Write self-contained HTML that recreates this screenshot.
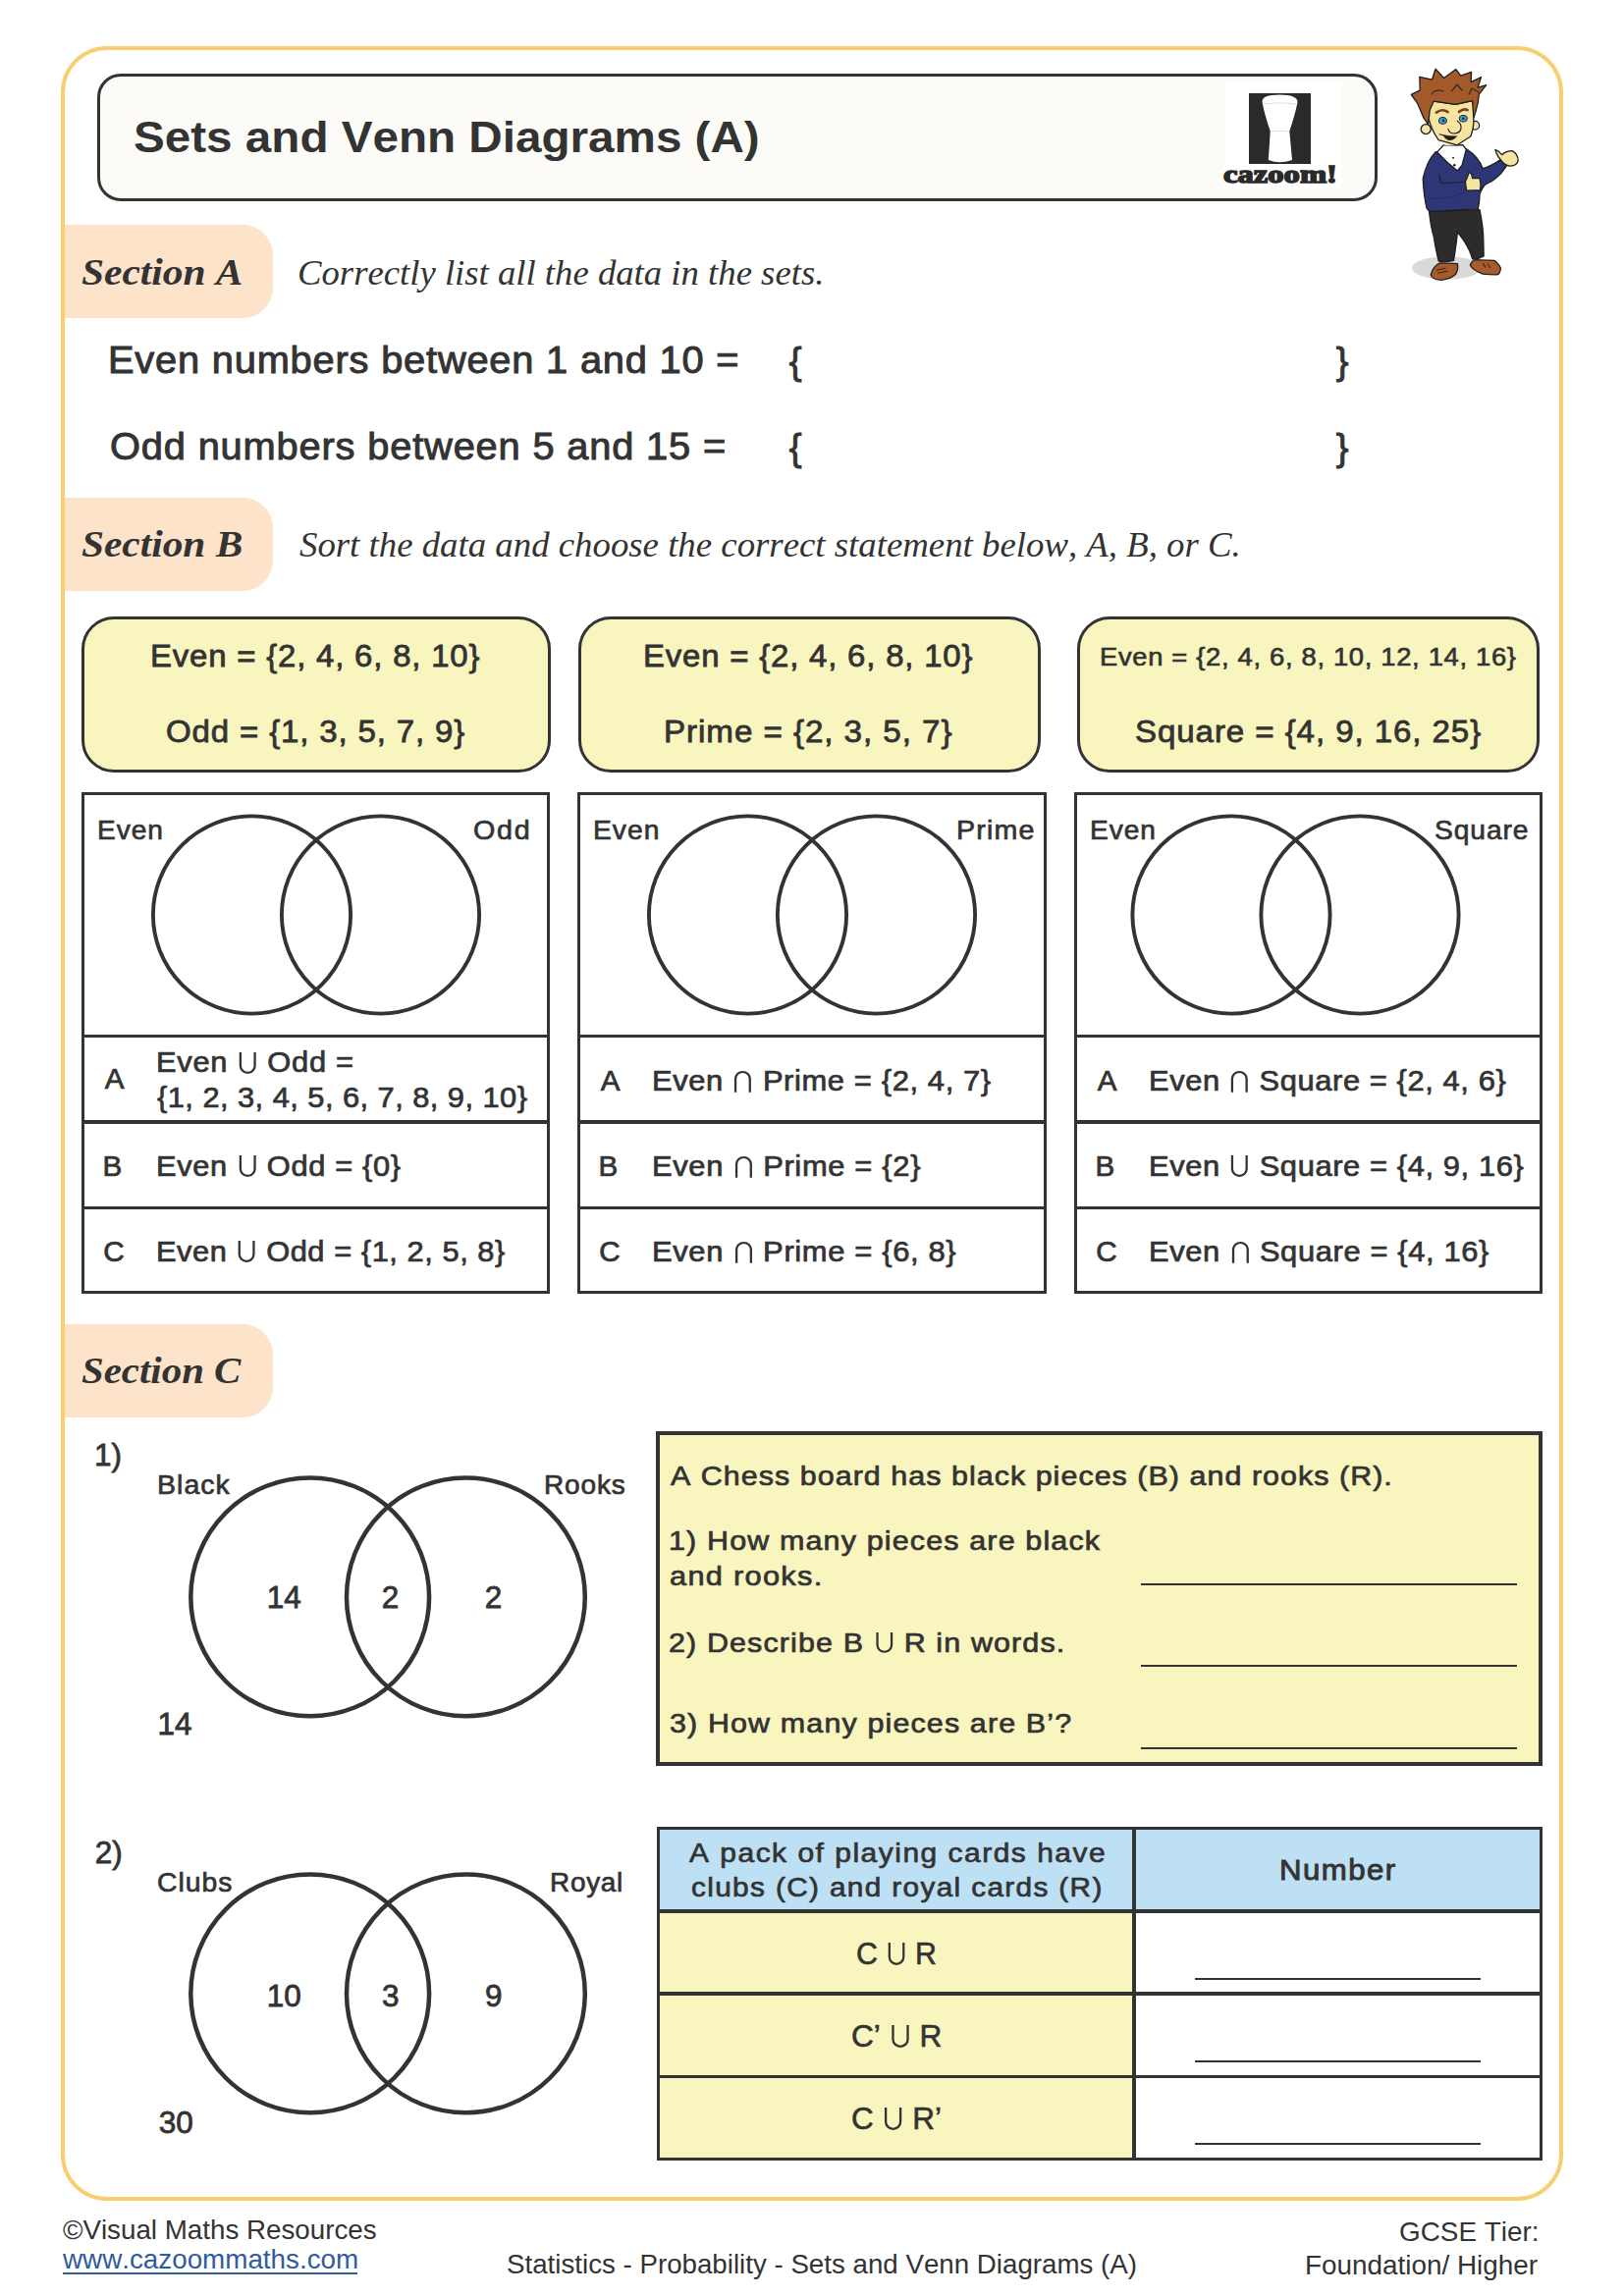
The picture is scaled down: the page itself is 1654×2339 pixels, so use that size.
<!DOCTYPE html>
<html><head><meta charset="utf-8"><title>Sets and Venn Diagrams (A)</title>
<style>
html,body{margin:0;padding:0;background:#FFFFFF;}
body{width:1654px;height:2339px;position:relative;overflow:hidden;font-family:"Liberation Sans", sans-serif;}
.r{position:absolute;box-sizing:border-box;}
.t{position:absolute;white-space:pre;font-kerning:none;}
.sym{display:inline-block;width:0.58em;height:0.77em;margin:0 0.06em;vertical-align:-0.08em;overflow:visible;}
</style></head><body>
<div class="r" style="left:62px;top:47px;width:1530px;height:2195px;background:none;border:4px solid #F8CE72;border-radius:47px;"></div>
<div class="r" style="left:99px;top:75px;width:1304px;height:130px;background:#FCFBF7;border:3.5px solid #333333;border-radius:24px;"></div>
<div class="t" style="left:135.63px;top:116.90px;font-family:'Liberation Sans', sans-serif;font-weight:700;font-style:normal;font-size:45px;line-height:45px;color:#333333;transform:scaleX(1.0582);transform-origin:0 0;">Sets and Venn Diagrams (A)</div>
<div class="r" style="left:1247px;top:84px;width:119px;height:109px;background:#FFFFFF;border:0px solid #333333;border-radius:0;"></div>
<div class="r" style="left:1272px;top:95px;width:63px;height:72px;background:#2A2A2A;border:0px solid #333333;border-radius:0;"></div>
<svg class="r" style="left:1272px;top:95px" width="63" height="72" viewBox="0 0 63 72"><path d="M13.5,9 Q13,1.5 31,1.5 Q49.5,1.5 49.5,9 Q47,22 41.3,38.6 Q42.5,52 44,68 Q31,72.5 19.8,68 Q21,52 21.7,38.6 Q16,22 13.5,9 Z" fill="#FFFFFF"/><path d="M15,11 Q31,8.5 48,11" stroke="#d8d8d8" stroke-width="0.9" fill="none"/><path d="M22.5,39 Q31,37.5 40.5,39" stroke="#d8d8d8" stroke-width="0.9" fill="none"/></svg>
<div class="t" style="left:1245.64px;top:165.15px;font-family:'Liberation Serif', serif;font-weight:700;font-style:normal;font-size:25.5px;line-height:25.5px;color:#2A2A2A;transform:scaleX(1.2792);transform-origin:0 0;-webkit-text-stroke:1.5px #2A2A2A;">cazoom!</div>
<div class="r" style="left:66px;top:229px;width:212px;height:95px;background:#FDE3CA;border:0px solid #333333;border-radius:0 31px 31px 0;"></div>
<div class="t" style="left:83.25px;top:259.02px;font-family:'Liberation Serif', serif;font-weight:700;font-style:italic;font-size:37px;line-height:37px;color:#333333;transform:scaleX(1.1188);transform-origin:0 0;">Section A</div>
<div class="r" style="left:66px;top:507px;width:212px;height:95px;background:#FDE3CA;border:0px solid #333333;border-radius:0 31px 31px 0;"></div>
<div class="t" style="left:83.25px;top:535.72px;font-family:'Liberation Serif', serif;font-weight:700;font-style:italic;font-size:37px;line-height:37px;color:#333333;transform:scaleX(1.1177);transform-origin:0 0;">Section B</div>
<div class="r" style="left:66px;top:1349px;width:212px;height:95px;background:#FDE3CA;border:0px solid #333333;border-radius:0 31px 31px 0;"></div>
<div class="t" style="left:83.26px;top:1377.72px;font-family:'Liberation Serif', serif;font-weight:700;font-style:italic;font-size:37px;line-height:37px;color:#333333;transform:scaleX(1.1046);transform-origin:0 0;">Section C</div>
<div class="t" style="left:302.96px;top:260.69px;font-family:'Liberation Serif', serif;font-weight:400;font-style:italic;font-size:35px;line-height:35px;color:#333333;transform:scaleX(1.0489);transform-origin:0 0;">Correctly list all the data in the sets.</div>
<div class="t" style="left:304.57px;top:537.69px;font-family:'Liberation Serif', serif;font-weight:400;font-style:italic;font-size:35px;line-height:35px;color:#333333;transform:scaleX(1.0515);transform-origin:0 0;">Sort the data and choose the correct statement below, A, B, or C.</div>
<div class="t" style="left:110.22px;top:347.66px;font-family:'Liberation Sans', sans-serif;font-weight:400;font-style:normal;font-size:38.2px;line-height:38.2px;color:#333333;transform:scaleX(1.0416);transform-origin:0 0;letter-spacing:0.784px;-webkit-text-stroke:0.96px #333333;">Even numbers between 1 and 10 =</div>
<div class="t" style="left:111.59px;top:435.66px;font-family:'Liberation Sans', sans-serif;font-weight:400;font-style:normal;font-size:38.2px;line-height:38.2px;color:#333333;transform:scaleX(1.0422);transform-origin:0 0;letter-spacing:0.803px;-webkit-text-stroke:0.96px #333333;">Odd numbers between 5 and 15 =</div>
<div class="t" style="left:803.85px;top:348.66px;font-family:'Liberation Sans', sans-serif;font-weight:400;font-style:normal;font-size:38.2px;line-height:38.2px;color:#333333;-webkit-text-stroke:0.96px #333333;">{</div>
<div class="t" style="left:1360.85px;top:348.66px;font-family:'Liberation Sans', sans-serif;font-weight:400;font-style:normal;font-size:38.2px;line-height:38.2px;color:#333333;-webkit-text-stroke:0.96px #333333;">}</div>
<div class="t" style="left:803.85px;top:436.66px;font-family:'Liberation Sans', sans-serif;font-weight:400;font-style:normal;font-size:38.2px;line-height:38.2px;color:#333333;-webkit-text-stroke:0.96px #333333;">{</div>
<div class="t" style="left:1360.85px;top:436.66px;font-family:'Liberation Sans', sans-serif;font-weight:400;font-style:normal;font-size:38.2px;line-height:38.2px;color:#333333;-webkit-text-stroke:0.96px #333333;">}</div>
<div class="r" style="left:82.5px;top:627.8px;width:478.0px;height:159.60000000000002px;background:#F9F5BE;border:3.9px solid #333333;border-radius:33px;"></div>
<div class="t" style="left:152.69px;top:652.72px;font-family:'Liberation Sans', sans-serif;font-weight:400;font-style:normal;font-size:31.04px;line-height:31.04px;color:#333333;transform:scaleX(1.0606);transform-origin:0 0;letter-spacing:0.769px;-webkit-text-stroke:0.78px #333333;">Even = {2, 4, 6, 8, 10}</div>
<div class="t" style="left:168.83px;top:729.72px;font-family:'Liberation Sans', sans-serif;font-weight:400;font-style:normal;font-size:31.04px;line-height:31.04px;color:#333333;transform:scaleX(1.0637);transform-origin:0 0;letter-spacing:0.803px;-webkit-text-stroke:0.78px #333333;">Odd = {1, 3, 5, 7, 9}</div>
<div class="r" style="left:83px;top:807px;width:477px;height:511px;background:#FFFFFF;border:3.5px solid #333333;border-radius:0;"></div>
<div class="r" style="left:83px;top:1053.8px;width:477px;height:3.2000000000000455px;background:#333333;border:0px solid #333333;border-radius:0;"></div>
<div class="r" style="left:83px;top:1141px;width:477px;height:4px;background:#333333;border:0px solid #333333;border-radius:0;"></div>
<div class="r" style="left:83px;top:1228.8px;width:477px;height:3.2000000000000455px;background:#333333;border:0px solid #333333;border-radius:0;"></div>
<svg class="r" style="left:83px;top:820px" width="477" height="230" viewBox="0 0 477 230"><circle cx="173.5" cy="112" r="100.6" fill="none" stroke="#333333" stroke-width="3.9"/><circle cx="304.5" cy="112" r="100.6" fill="none" stroke="#333333" stroke-width="3.9"/></svg>
<div class="t" style="left:98.53px;top:833.36px;font-family:'Liberation Sans', sans-serif;font-weight:400;font-style:normal;font-size:26.74px;line-height:26.74px;color:#333333;transform:scaleX(1.0510);transform-origin:0 0;letter-spacing:0.922px;-webkit-text-stroke:0.67px #333333;">Even</div>
<div class="t" style="left:482.38px;top:833.36px;font-family:'Liberation Sans', sans-serif;font-weight:400;font-style:normal;font-size:26.74px;line-height:26.74px;color:#333333;transform:scaleX(1.0734);transform-origin:0 0;letter-spacing:1.625px;-webkit-text-stroke:0.67px #333333;">Odd</div>
<div class="t" style="left:106.81px;top:1083.93px;font-family:'Liberation Sans', sans-serif;font-weight:400;font-style:normal;font-size:29.61px;line-height:29.61px;color:#333333;-webkit-text-stroke:0.74px #333333;">A</div>
<div class="t" style="left:159.34px;top:1067.43px;font-family:'Liberation Sans', sans-serif;font-weight:400;font-style:normal;font-size:29.61px;line-height:29.61px;color:#333333;transform:scaleX(1.0406);transform-origin:0 0;letter-spacing:0.711px;-webkit-text-stroke:0.74px #333333;">Even <svg class="sym" viewBox="0 0 18 24" preserveAspectRatio="none"><path d="M1.6,0 V14.5 A7.4,7.4 0 0 0 16.4,14.5 V0" fill="none" stroke="currentColor" stroke-width="2.3"/></svg> Odd =</div>
<div class="t" style="left:159.86px;top:1103.43px;font-family:'Liberation Sans', sans-serif;font-weight:400;font-style:normal;font-size:29.61px;line-height:29.61px;color:#333333;transform:scaleX(1.0401);transform-origin:0 0;letter-spacing:0.447px;-webkit-text-stroke:0.74px #333333;">{1, 2, 3, 4, 5, 6, 7, 8, 9, 10}</div>
<div class="t" style="left:104.44px;top:1172.93px;font-family:'Liberation Sans', sans-serif;font-weight:400;font-style:normal;font-size:29.61px;line-height:29.61px;color:#333333;-webkit-text-stroke:0.74px #333333;">B</div>
<div class="t" style="left:159.34px;top:1172.93px;font-family:'Liberation Sans', sans-serif;font-weight:400;font-style:normal;font-size:29.61px;line-height:29.61px;color:#333333;transform:scaleX(1.0404);transform-origin:0 0;letter-spacing:0.631px;-webkit-text-stroke:0.74px #333333;">Even <svg class="sym" viewBox="0 0 18 24" preserveAspectRatio="none"><path d="M1.6,0 V14.5 A7.4,7.4 0 0 0 16.4,14.5 V0" fill="none" stroke="currentColor" stroke-width="2.3"/></svg> Odd = {0}</div>
<div class="t" style="left:105.37px;top:1259.93px;font-family:'Liberation Sans', sans-serif;font-weight:400;font-style:normal;font-size:29.61px;line-height:29.61px;color:#333333;-webkit-text-stroke:0.74px #333333;">C</div>
<div class="t" style="left:159.34px;top:1259.93px;font-family:'Liberation Sans', sans-serif;font-weight:400;font-style:normal;font-size:29.61px;line-height:29.61px;color:#333333;transform:scaleX(1.0396);transform-origin:0 0;letter-spacing:0.540px;-webkit-text-stroke:0.74px #333333;">Even <svg class="sym" viewBox="0 0 18 24" preserveAspectRatio="none"><path d="M1.6,0 V14.5 A7.4,7.4 0 0 0 16.4,14.5 V0" fill="none" stroke="currentColor" stroke-width="2.3"/></svg> Odd = {1, 2, 5, 8}</div>
<div class="r" style="left:588.6px;top:627.8px;width:471.1px;height:159.60000000000002px;background:#F9F5BE;border:3.9px solid #333333;border-radius:33px;"></div>
<div class="t" style="left:655.34px;top:652.72px;font-family:'Liberation Sans', sans-serif;font-weight:400;font-style:normal;font-size:31.04px;line-height:31.04px;color:#333333;transform:scaleX(1.0606);transform-origin:0 0;letter-spacing:0.769px;-webkit-text-stroke:0.78px #333333;">Even = {2, 4, 6, 8, 10}</div>
<div class="t" style="left:676.32px;top:729.72px;font-family:'Liberation Sans', sans-serif;font-weight:400;font-style:normal;font-size:31.04px;line-height:31.04px;color:#333333;transform:scaleX(1.0694);transform-origin:0 0;letter-spacing:0.870px;-webkit-text-stroke:0.78px #333333;">Prime = {2, 3, 5, 7}</div>
<div class="r" style="left:588px;top:807px;width:478px;height:511px;background:#FFFFFF;border:3.5px solid #333333;border-radius:0;"></div>
<div class="r" style="left:588px;top:1053.8px;width:478px;height:3.2000000000000455px;background:#333333;border:0px solid #333333;border-radius:0;"></div>
<div class="r" style="left:588px;top:1141px;width:478px;height:4px;background:#333333;border:0px solid #333333;border-radius:0;"></div>
<div class="r" style="left:588px;top:1228.8px;width:478px;height:3.2000000000000455px;background:#333333;border:0px solid #333333;border-radius:0;"></div>
<svg class="r" style="left:588px;top:820px" width="478" height="230" viewBox="0 0 478 230"><circle cx="173.5" cy="112" r="100.6" fill="none" stroke="#333333" stroke-width="3.9"/><circle cx="304.5" cy="112" r="100.6" fill="none" stroke="#333333" stroke-width="3.9"/></svg>
<div class="t" style="left:603.52px;top:833.36px;font-family:'Liberation Sans', sans-serif;font-weight:400;font-style:normal;font-size:26.74px;line-height:26.74px;color:#333333;transform:scaleX(1.0553);transform-origin:0 0;letter-spacing:0.997px;-webkit-text-stroke:0.67px #333333;">Even</div>
<div class="t" style="left:973.89px;top:833.36px;font-family:'Liberation Sans', sans-serif;font-weight:400;font-style:normal;font-size:26.74px;line-height:26.74px;color:#333333;transform:scaleX(1.0706);transform-origin:0 0;letter-spacing:1.096px;-webkit-text-stroke:0.67px #333333;">Prime</div>
<div class="t" style="left:611.81px;top:1085.93px;font-family:'Liberation Sans', sans-serif;font-weight:400;font-style:normal;font-size:29.61px;line-height:29.61px;color:#333333;-webkit-text-stroke:0.74px #333333;">A</div>
<div class="t" style="left:664.34px;top:1085.93px;font-family:'Liberation Sans', sans-serif;font-weight:400;font-style:normal;font-size:29.61px;line-height:29.61px;color:#333333;transform:scaleX(1.0432);transform-origin:0 0;letter-spacing:0.593px;-webkit-text-stroke:0.74px #333333;">Even <svg class="sym" viewBox="0 0 18 24" preserveAspectRatio="none"><path d="M1.6,24 V9.5 A7.4,7.4 0 0 1 16.4,9.5 V24" fill="none" stroke="currentColor" stroke-width="2.3"/></svg> Prime = {2, 4, 7}</div>
<div class="t" style="left:609.44px;top:1172.93px;font-family:'Liberation Sans', sans-serif;font-weight:400;font-style:normal;font-size:29.61px;line-height:29.61px;color:#333333;-webkit-text-stroke:0.74px #333333;">B</div>
<div class="t" style="left:664.34px;top:1172.93px;font-family:'Liberation Sans', sans-serif;font-weight:400;font-style:normal;font-size:29.61px;line-height:29.61px;color:#333333;transform:scaleX(1.0429);transform-origin:0 0;letter-spacing:0.640px;-webkit-text-stroke:0.74px #333333;">Even <svg class="sym" viewBox="0 0 18 24" preserveAspectRatio="none"><path d="M1.6,24 V9.5 A7.4,7.4 0 0 1 16.4,9.5 V24" fill="none" stroke="currentColor" stroke-width="2.3"/></svg> Prime = {2}</div>
<div class="t" style="left:610.37px;top:1259.93px;font-family:'Liberation Sans', sans-serif;font-weight:400;font-style:normal;font-size:29.61px;line-height:29.61px;color:#333333;-webkit-text-stroke:0.74px #333333;">C</div>
<div class="t" style="left:664.34px;top:1259.93px;font-family:'Liberation Sans', sans-serif;font-weight:400;font-style:normal;font-size:29.61px;line-height:29.61px;color:#333333;transform:scaleX(1.0437);transform-origin:0 0;letter-spacing:0.621px;-webkit-text-stroke:0.74px #333333;">Even <svg class="sym" viewBox="0 0 18 24" preserveAspectRatio="none"><path d="M1.6,24 V9.5 A7.4,7.4 0 0 1 16.4,9.5 V24" fill="none" stroke="currentColor" stroke-width="2.3"/></svg> Prime = {6, 8}</div>
<div class="r" style="left:1097px;top:627.8px;width:471px;height:159.60000000000002px;background:#F9F5BE;border:3.9px solid #333333;border-radius:33px;"></div>
<div class="t" style="left:1119.57px;top:657.16px;font-family:'Liberation Sans', sans-serif;font-weight:400;font-style:normal;font-size:25.79px;line-height:25.79px;color:#333333;transform:scaleX(1.0614);transform-origin:0 0;letter-spacing:0.639px;-webkit-text-stroke:0.64px #333333;">Even = {2, 4, 6, 8, 10, 12, 14, 16}</div>
<div class="t" style="left:1155.89px;top:729.72px;font-family:'Liberation Sans', sans-serif;font-weight:400;font-style:normal;font-size:31.04px;line-height:31.04px;color:#333333;transform:scaleX(1.0657);transform-origin:0 0;letter-spacing:0.867px;-webkit-text-stroke:0.78px #333333;">Square = {4, 9, 16, 25}</div>
<div class="r" style="left:1094px;top:807px;width:477px;height:511px;background:#FFFFFF;border:3.5px solid #333333;border-radius:0;"></div>
<div class="r" style="left:1094px;top:1053.8px;width:477px;height:3.2000000000000455px;background:#333333;border:0px solid #333333;border-radius:0;"></div>
<div class="r" style="left:1094px;top:1141px;width:477px;height:4px;background:#333333;border:0px solid #333333;border-radius:0;"></div>
<div class="r" style="left:1094px;top:1228.8px;width:477px;height:3.2000000000000455px;background:#333333;border:0px solid #333333;border-radius:0;"></div>
<svg class="r" style="left:1094px;top:820px" width="477" height="230" viewBox="0 0 477 230"><circle cx="160" cy="112" r="100.6" fill="none" stroke="#333333" stroke-width="3.9"/><circle cx="291" cy="112" r="100.6" fill="none" stroke="#333333" stroke-width="3.9"/></svg>
<div class="t" style="left:1109.53px;top:833.36px;font-family:'Liberation Sans', sans-serif;font-weight:400;font-style:normal;font-size:26.74px;line-height:26.74px;color:#333333;transform:scaleX(1.0510);transform-origin:0 0;letter-spacing:0.922px;-webkit-text-stroke:0.67px #333333;">Even</div>
<div class="t" style="left:1460.75px;top:833.36px;font-family:'Liberation Sans', sans-serif;font-weight:400;font-style:normal;font-size:26.74px;line-height:26.74px;color:#333333;transform:scaleX(1.0549);transform-origin:0 0;letter-spacing:0.873px;-webkit-text-stroke:0.67px #333333;">Square</div>
<div class="t" style="left:1117.81px;top:1085.93px;font-family:'Liberation Sans', sans-serif;font-weight:400;font-style:normal;font-size:29.61px;line-height:29.61px;color:#333333;-webkit-text-stroke:0.74px #333333;">A</div>
<div class="t" style="left:1170.34px;top:1085.93px;font-family:'Liberation Sans', sans-serif;font-weight:400;font-style:normal;font-size:29.61px;line-height:29.61px;color:#333333;transform:scaleX(1.0415);transform-origin:0 0;letter-spacing:0.577px;-webkit-text-stroke:0.74px #333333;">Even <svg class="sym" viewBox="0 0 18 24" preserveAspectRatio="none"><path d="M1.6,24 V9.5 A7.4,7.4 0 0 1 16.4,9.5 V24" fill="none" stroke="currentColor" stroke-width="2.3"/></svg> Square = {2, 4, 6}</div>
<div class="t" style="left:1115.44px;top:1172.93px;font-family:'Liberation Sans', sans-serif;font-weight:400;font-style:normal;font-size:29.61px;line-height:29.61px;color:#333333;-webkit-text-stroke:0.74px #333333;">B</div>
<div class="t" style="left:1170.34px;top:1172.93px;font-family:'Liberation Sans', sans-serif;font-weight:400;font-style:normal;font-size:29.61px;line-height:29.61px;color:#333333;transform:scaleX(1.0419);transform-origin:0 0;letter-spacing:0.585px;-webkit-text-stroke:0.74px #333333;">Even <svg class="sym" viewBox="0 0 18 24" preserveAspectRatio="none"><path d="M1.6,0 V14.5 A7.4,7.4 0 0 0 16.4,14.5 V0" fill="none" stroke="currentColor" stroke-width="2.3"/></svg> Square = {4, 9, 16}</div>
<div class="t" style="left:1116.37px;top:1259.93px;font-family:'Liberation Sans', sans-serif;font-weight:400;font-style:normal;font-size:29.61px;line-height:29.61px;color:#333333;-webkit-text-stroke:0.74px #333333;">C</div>
<div class="t" style="left:1170.34px;top:1259.93px;font-family:'Liberation Sans', sans-serif;font-weight:400;font-style:normal;font-size:29.61px;line-height:29.61px;color:#333333;transform:scaleX(1.0422);transform-origin:0 0;letter-spacing:0.610px;-webkit-text-stroke:0.74px #333333;">Even <svg class="sym" viewBox="0 0 18 24" preserveAspectRatio="none"><path d="M1.6,24 V9.5 A7.4,7.4 0 0 1 16.4,9.5 V24" fill="none" stroke="currentColor" stroke-width="2.3"/></svg> Square = {4, 16}</div>
<div class="t" style="left:95.89px;top:1466.92px;font-family:'Liberation Sans', sans-serif;font-weight:400;font-style:normal;font-size:31.51px;line-height:31.51px;color:#333333;-webkit-text-stroke:0.79px #333333;">1)</div>
<svg class="r" style="left:180px;top:1490px" width="440" height="275" viewBox="0 0 440 275"><circle cx="135.7" cy="136.9" r="121.4" fill="none" stroke="#333333" stroke-width="4.5"/><circle cx="294.4" cy="136.9" r="121.4" fill="none" stroke="#333333" stroke-width="4.5"/></svg>
<div class="t" style="left:159.50px;top:1500.06px;font-family:'Liberation Sans', sans-serif;font-weight:400;font-style:normal;font-size:26.74px;line-height:26.74px;color:#333333;transform:scaleX(1.0656);transform-origin:0 0;letter-spacing:0.973px;-webkit-text-stroke:0.67px #333333;">Black</div>
<div class="t" style="left:553.94px;top:1500.26px;font-family:'Liberation Sans', sans-serif;font-weight:400;font-style:normal;font-size:26.74px;line-height:26.74px;color:#333333;transform:scaleX(1.0475);transform-origin:0 0;letter-spacing:0.823px;-webkit-text-stroke:0.67px #333333;">Rooks</div>
<div class="t" style="left:271.69px;top:1611.82px;font-family:'Liberation Sans', sans-serif;font-weight:400;font-style:normal;font-size:31.51px;line-height:31.51px;color:#333333;-webkit-text-stroke:0.79px #333333;">14</div>
<div class="t" style="left:388.71px;top:1611.92px;font-family:'Liberation Sans', sans-serif;font-weight:400;font-style:normal;font-size:31.51px;line-height:31.51px;color:#333333;-webkit-text-stroke:0.79px #333333;">2</div>
<div class="t" style="left:493.81px;top:1611.92px;font-family:'Liberation Sans', sans-serif;font-weight:400;font-style:normal;font-size:31.51px;line-height:31.51px;color:#333333;-webkit-text-stroke:0.79px #333333;">2</div>
<div class="t" style="left:160.49px;top:1740.72px;font-family:'Liberation Sans', sans-serif;font-weight:400;font-style:normal;font-size:31.51px;line-height:31.51px;color:#333333;-webkit-text-stroke:0.79px #333333;">14</div>
<div class="t" style="left:96.71px;top:1871.62px;font-family:'Liberation Sans', sans-serif;font-weight:400;font-style:normal;font-size:31.51px;line-height:31.51px;color:#333333;-webkit-text-stroke:0.79px #333333;">2)</div>
<svg class="r" style="left:180px;top:1893.5px" width="440" height="275" viewBox="0 0 440 275"><circle cx="135.7" cy="136.9" r="121.4" fill="none" stroke="#333333" stroke-width="4.5"/><circle cx="294.4" cy="136.9" r="121.4" fill="none" stroke="#333333" stroke-width="4.5"/></svg>
<div class="t" style="left:160.40px;top:1904.76px;font-family:'Liberation Sans', sans-serif;font-weight:400;font-style:normal;font-size:26.74px;line-height:26.74px;color:#333333;transform:scaleX(1.0597);transform-origin:0 0;letter-spacing:0.931px;-webkit-text-stroke:0.67px #333333;">Clubs</div>
<div class="t" style="left:560.04px;top:1904.96px;font-family:'Liberation Sans', sans-serif;font-weight:400;font-style:normal;font-size:26.74px;line-height:26.74px;color:#333333;transform:scaleX(1.0446);transform-origin:0 0;letter-spacing:0.688px;-webkit-text-stroke:0.67px #333333;">Royal</div>
<div class="t" style="left:271.69px;top:2018.02px;font-family:'Liberation Sans', sans-serif;font-weight:400;font-style:normal;font-size:31.51px;line-height:31.51px;color:#333333;-webkit-text-stroke:0.79px #333333;">10</div>
<div class="t" style="left:389.09px;top:2018.12px;font-family:'Liberation Sans', sans-serif;font-weight:400;font-style:normal;font-size:31.51px;line-height:31.51px;color:#333333;-webkit-text-stroke:0.79px #333333;">3</div>
<div class="t" style="left:493.92px;top:2018.12px;font-family:'Liberation Sans', sans-serif;font-weight:400;font-style:normal;font-size:31.51px;line-height:31.51px;color:#333333;-webkit-text-stroke:0.79px #333333;">9</div>
<div class="t" style="left:161.69px;top:2146.92px;font-family:'Liberation Sans', sans-serif;font-weight:400;font-style:normal;font-size:31.51px;line-height:31.51px;color:#333333;-webkit-text-stroke:0.79px #333333;">30</div>
<div class="r" style="left:668px;top:1458px;width:903px;height:341px;background:#F9F5BE;border:4.5px solid #333333;border-radius:0;"></div>
<div class="t" style="left:682.79px;top:1488.55px;font-family:'Liberation Sans', sans-serif;font-weight:400;font-style:normal;font-size:28.17px;line-height:28.17px;color:#333333;transform:scaleX(1.0798);transform-origin:0 0;letter-spacing:0.973px;-webkit-text-stroke:0.7px #333333;">A Chess board has black pieces (B) and rooks (R).</div>
<div class="t" style="left:680.53px;top:1554.55px;font-family:'Liberation Sans', sans-serif;font-weight:400;font-style:normal;font-size:28.17px;line-height:28.17px;color:#333333;transform:scaleX(1.0823);transform-origin:0 0;letter-spacing:1.057px;-webkit-text-stroke:0.7px #333333;">1) How many pieces are black</div>
<div class="t" style="left:681.54px;top:1591.15px;font-family:'Liberation Sans', sans-serif;font-weight:400;font-style:normal;font-size:28.17px;line-height:28.17px;color:#333333;transform:scaleX(1.0917);transform-origin:0 0;letter-spacing:1.192px;-webkit-text-stroke:0.7px #333333;">and rooks.</div>
<div class="t" style="left:681.32px;top:1658.55px;font-family:'Liberation Sans', sans-serif;font-weight:400;font-style:normal;font-size:28.17px;line-height:28.17px;color:#333333;transform:scaleX(1.0819);transform-origin:0 0;letter-spacing:1.039px;-webkit-text-stroke:0.7px #333333;">2) Describe B <svg class="sym" viewBox="0 0 18 24" preserveAspectRatio="none"><path d="M1.6,0 V14.5 A7.4,7.4 0 0 0 16.4,14.5 V0" fill="none" stroke="currentColor" stroke-width="2.3"/></svg> R in words.</div>
<div class="t" style="left:681.69px;top:1741.15px;font-family:'Liberation Sans', sans-serif;font-weight:400;font-style:normal;font-size:28.17px;line-height:28.17px;color:#333333;transform:scaleX(1.0812);transform-origin:0 0;letter-spacing:1.051px;-webkit-text-stroke:0.7px #333333;">3) How many pieces are B’?</div>
<div class="r" style="left:1162px;top:1613px;width:383px;height:2px;background:#333333;border:0px solid #333333;border-radius:0;"></div>
<div class="r" style="left:1162px;top:1696px;width:383px;height:2px;background:#333333;border:0px solid #333333;border-radius:0;"></div>
<div class="r" style="left:1162px;top:1779.5px;width:383px;height:2.0px;background:#333333;border:0px solid #333333;border-radius:0;"></div>
<div class="r" style="left:669px;top:1861px;width:902px;height:340px;background:#FFFFFF;border:0px solid #333333;border-radius:0;"></div>
<div class="r" style="left:671px;top:1863px;width:484px;height:84px;background:#BEE0F5;border:0px solid #333333;border-radius:0;"></div>
<div class="r" style="left:671px;top:1946px;width:484px;height:253px;background:#F9F5BE;border:0px solid #333333;border-radius:0;"></div>
<div class="r" style="left:1154px;top:1863px;width:415px;height:84px;background:#BEE0F5;border:0px solid #333333;border-radius:0;"></div>
<div class="r" style="left:669px;top:1861px;width:902px;height:340px;background:none;border:3.3px solid #333333;border-radius:0;"></div>
<div class="r" style="left:669px;top:1945px;width:902px;height:3.5px;background:#333333;border:0px solid #333333;border-radius:0;"></div>
<div class="r" style="left:669px;top:2029px;width:902px;height:3.5px;background:#333333;border:0px solid #333333;border-radius:0;"></div>
<div class="r" style="left:669px;top:2113.5px;width:902px;height:3.5px;background:#333333;border:0px solid #333333;border-radius:0;"></div>
<div class="r" style="left:1152.5px;top:1861px;width:4.0px;height:340px;background:#333333;border:0px solid #333333;border-radius:0;"></div>
<div class="t" style="left:701.78px;top:1874.56px;font-family:'Liberation Sans', sans-serif;font-weight:400;font-style:normal;font-size:26.74px;line-height:26.74px;color:#333333;transform:scaleX(1.1199);transform-origin:0 0;letter-spacing:1.351px;-webkit-text-stroke:0.67px #333333;">A pack of playing cards have</div>
<div class="t" style="left:704.07px;top:1909.96px;font-family:'Liberation Sans', sans-serif;font-weight:400;font-style:normal;font-size:26.74px;line-height:26.74px;color:#333333;transform:scaleX(1.1126);transform-origin:0 0;letter-spacing:1.225px;-webkit-text-stroke:0.67px #333333;">clubs (C) and royal cards (R)</div>
<div class="t" style="left:1302.69px;top:1891.14px;font-family:'Liberation Sans', sans-serif;font-weight:400;font-style:normal;font-size:29.13px;line-height:29.13px;color:#333333;transform:scaleX(1.0713);transform-origin:0 0;letter-spacing:1.341px;-webkit-text-stroke:0.9px #333333;">Number</div>
<div class="t" style="left:872.01px;top:1974.55px;font-family:'Liberation Sans', sans-serif;font-weight:400;font-style:normal;font-size:31px;line-height:31px;color:#333333;transform:scaleX(0.9778);transform-origin:0 0;-webkit-text-stroke:0.6px #333333;">C <svg class="sym" viewBox="0 0 18 24" preserveAspectRatio="none"><path d="M1.6,0 V14.5 A7.4,7.4 0 0 0 16.4,14.5 V0" fill="none" stroke="currentColor" stroke-width="2.3"/></svg> R</div>
<div class="t" style="left:866.69px;top:2058.55px;font-family:'Liberation Sans', sans-serif;font-weight:400;font-style:normal;font-size:31px;line-height:31px;color:#333333;transform:scaleX(1.0208);transform-origin:0 0;-webkit-text-stroke:0.6px #333333;">C’ <svg class="sym" viewBox="0 0 18 24" preserveAspectRatio="none"><path d="M1.6,0 V14.5 A7.4,7.4 0 0 0 16.4,14.5 V0" fill="none" stroke="currentColor" stroke-width="2.3"/></svg> R</div>
<div class="t" style="left:867.20px;top:2142.55px;font-family:'Liberation Sans', sans-serif;font-weight:400;font-style:normal;font-size:31px;line-height:31px;color:#333333;transform:scaleX(1.0150);transform-origin:0 0;-webkit-text-stroke:0.6px #333333;">C <svg class="sym" viewBox="0 0 18 24" preserveAspectRatio="none"><path d="M1.6,0 V14.5 A7.4,7.4 0 0 0 16.4,14.5 V0" fill="none" stroke="currentColor" stroke-width="2.3"/></svg> R’</div>
<div class="r" style="left:1217px;top:2014.6px;width:291px;height:2.0px;background:#333333;border:0px solid #333333;border-radius:0;"></div>
<div class="r" style="left:1217px;top:2098.6px;width:291px;height:2.0px;background:#333333;border:0px solid #333333;border-radius:0;"></div>
<div class="r" style="left:1217px;top:2182.6px;width:291px;height:2.0px;background:#333333;border:0px solid #333333;border-radius:0;"></div>
<div class="t" style="left:63.88px;top:2257.52px;font-family:'Liberation Sans', sans-serif;font-weight:400;font-style:normal;font-size:27.5px;line-height:27.5px;color:#333;transform:scaleX(1.0090);transform-origin:0 0;">©Visual Maths Resources</div>
<div class="t" style="left:64.34px;top:2288.32px;font-family:'Liberation Sans', sans-serif;font-weight:400;font-style:normal;font-size:27.5px;line-height:27.5px;color:#2F5C9C;transform:scaleX(1.0107);transform-origin:0 0;">www.cazoommaths.com</div>
<div class="r" style="left:64.3px;top:2314.5px;width:299.7px;height:2.0px;background:#2F5C9C;border:0px solid #333333;border-radius:0;"></div>
<div class="t" style="left:516.44px;top:2293.22px;font-family:'Liberation Sans', sans-serif;font-weight:400;font-style:normal;font-size:27.5px;line-height:27.5px;color:#333;transform:scaleX(1.0073);transform-origin:0 0;">Statistics - Probability - Sets and Venn Diagrams (A)</div>
<div class="t" style="left:1424.60px;top:2260.42px;font-family:'Liberation Sans', sans-serif;font-weight:400;font-style:normal;font-size:27.5px;line-height:27.5px;color:#333;transform:scaleX(1.0133);transform-origin:0 0;">GCSE Tier:</div>
<div class="t" style="left:1329.11px;top:2294.12px;font-family:'Liberation Sans', sans-serif;font-weight:400;font-style:normal;font-size:27.5px;line-height:27.5px;color:#333;transform:scaleX(1.0135);transform-origin:0 0;">Foundation/ Higher</div>
<svg class="r" style="left:1420px;top:60px" width="140" height="230" viewBox="0 0 1398 2296">
<g stroke="#1e1e1e" stroke-width="13" stroke-linejoin="round" stroke-linecap="round">
<ellipse cx="532" cy="2126" rx="352" ry="116" fill="#D9D9D9" stroke="none"/>
<path d="M355,1550 L868,1535 Q905,1700 907,1850 L910,2005 Q850,2040 795,2036 Q760,1900 643,1762 Q630,1900 604,2050 Q520,2070 452,2058 Q420,1930 404,1818 Q370,1700 355,1550 Z" fill="#2C2C2C"/>
<path d="M372,2194 Q400,2100 468,2075 L643,2083 Q655,2150 620,2195 Q560,2245 476,2250 Q380,2245 372,2194 Z" fill="#A85C2C"/>
<path d="M772,2099 Q790,2050 820,2043 L1019,2051 Q1070,2090 1083,2130 Q1075,2190 1043,2195 Q960,2195 900,2187 Q800,2150 772,2099 Z" fill="#A85C2C"/>
<path d="M430,2150 L520,2130 M445,2180 L540,2160 M900,2080 L930,2120 M950,2085 L975,2125" stroke="#3a2010" stroke-width="10" fill="none"/>
<path d="M419,947 Q330,1040 292,1218 Q300,1400 332,1522 L364,1555 L852,1523 Q870,1450 868,1378 Q900,1300 932,1274 Q1050,1230 1140,1091 Q1120,1030 1092,1019 Q980,1090 900,1115 Q860,1000 732,915 Z" fill="#2F3678"/>
<path d="M460,1178 Q470,1230 476,1266 L730,1250" fill="none" stroke-width="11"/>
<path d="M340,1420 Q500,1420 600,1400 Q700,1370 820,1300" fill="none" stroke="#232a60" stroke-width="9"/>
<path d="M436,947 L500,878 L700,876 L732,921 L690,1080 L643,1138 Q540,1060 436,947 Z" fill="#FFFFFF"/>


<circle cx="612" cy="1080" r="13" fill="#1e1e1e" stroke="none"/>
<circle cx="600" cy="1005" r="10" fill="#1e1e1e" stroke="none"/>
<path d="M1027,924 Q1065,935 1095,975 Q1140,935 1200,935 Q1262,970 1259,1040 Q1240,1090 1170,1090 Q1110,1070 1090,1035 Q1045,990 1027,924 Z" fill="#F6E5A0"/>
<path d="M723,1250 Q745,1200 760,1155 Q790,1160 795,1215 L870,1215 Q885,1280 875,1335 L735,1339 Z" fill="#F6E5A0"/>
<circle cx="322" cy="714" r="50" fill="#F6E5A0"/>
<circle cx="821" cy="676" r="44" fill="#F6E5A0"/>
<path d="M690,876 L645,878 Q600,870 540,860 L500,878 Z" fill="#F6E5A0" stroke="none"/>
<path d="M346,591 Q350,470 401,431 L622,462 L795,425 Q820,520 807,603 Q812,700 776,788 L640,876 Q540,850 450,825 Q375,720 346,591 Z" fill="#F6E5A0"/>
<path d="M173,363 L262,318 L258,182 L385,210 L420,102 L505,195 L628,105 L675,170 L785,133 L780,235 L884,185 L850,290 L936,265 L862,360 L852,440 L830,530 L807,600 L795,425 L622,462 L401,431 L362,520 L345,668 L300,600 L235,450 Z" fill="#A35A2B"/>
<path d="M380,360 Q420,300 500,330 M580,330 L640,260 L690,320 M760,360 L790,300 L860,340" fill="none" stroke-width="10"/>
<ellipse cx="493" cy="628" rx="40" ry="33" fill="#3BA3DD" stroke-width="10"/>
<ellipse cx="702" cy="606" rx="40" ry="33" fill="#3BA3DD" stroke-width="10"/>
<circle cx="500" cy="628" r="13" fill="#1e1e1e" stroke="none"/>
<circle cx="702" cy="606" r="13" fill="#1e1e1e" stroke="none"/>
<path d="M428,545 Q490,500 545,540" fill="none" stroke="#7A3F1C" stroke-width="26"/>
<path d="M659,538 Q710,500 745,520" fill="none" stroke="#7A3F1C" stroke-width="26"/>
<path d="M548,712 Q560,760 612,758 Q678,752 680,695 Q678,650 640,632" fill="none" stroke-width="11"/>
<path d="M462,766 L502,778" fill="none" stroke-width="11"/><path d="M502,776 Q570,790 635,788 Q600,828 560,826 Q515,818 502,776 Z" fill="#1e1e1e" stroke-width="8"/>
</g>
</svg>

</body></html>
